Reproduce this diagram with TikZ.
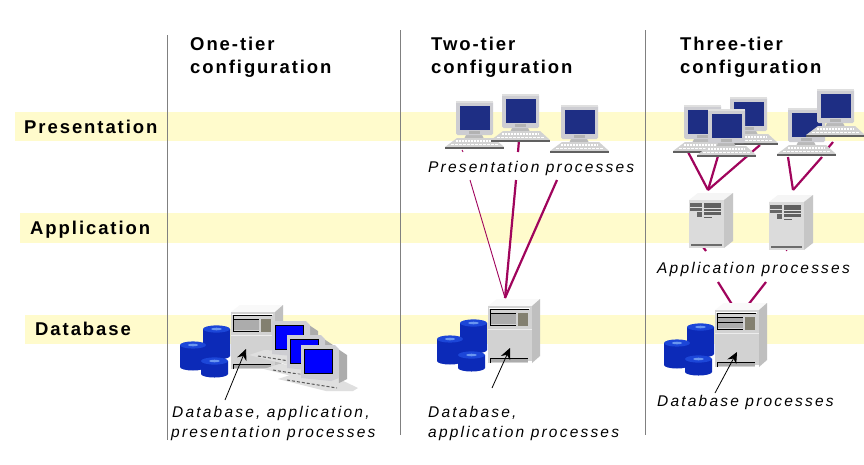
\documentclass[tikz,border=0pt]{standalone}
\usepackage{fontspec}
\usetikzlibrary{arrows.meta}
\setmainfont{Liberation Sans}
\newfontfamily\hdfont[LetterSpace=10.4]{Liberation Sans Bold}
\newfontfamily\itfont[LetterSpace=14.2]{Liberation Sans Italic}
\definecolor{bandc}{HTML}{FFFBCC}
\definecolor{linkc}{HTML}{A0045C}
\definecolor{rulec}{HTML}{808080}
\definecolor{bodyc}{HTML}{CDCDD2}
\definecolor{scrc}{HTML}{1E2E84}
\definecolor{cylbody}{HTML}{0C2AB8}
\definecolor{cyltop}{HTML}{1C46D8}
\definecolor{cylhi}{HTML}{6A96F0}
\tikzset{
  x=1pt,y=-1pt,
  band/.style={fill=bandc,draw=none},
  rulel/.style={draw=rulec,line width=0.9pt},
  head/.style={anchor=base west,inner sep=0pt,font=\hdfont\fontsize{18.5}{18.5}\selectfont},
  proc/.style={anchor=base west,inner sep=0pt,font=\itfont\fontsize{15.5}{15.5}\selectfont},
  lnk/.style={draw=linkc,line width=2.2pt},
  lnkthin/.style={draw=linkc,line width=0.9pt},
  ptr/.style={draw=black,line width=0.8pt,-{Stealth[length=11pt,width=10pt]}},
  pics/monitor/.style={code={
    \fill[gray!55] (10,34)--(26,34)--(28,38)--(8,38)--cycle;
    \fill[gray!35] (1,37)--(38,37)--(48,46)--(-11,46)--cycle;
    \fill[gray!75!black] (-11,46)--(48,46)--(48,48)--(-11,48)--cycle;
    \draw[white,line width=1.2pt,dash pattern=on 2pt off 1pt] (0,40)--(37,40);
    \draw[white,line width=1.2pt,dash pattern=on 3pt off 1pt] (-5,43.5)--(42,43.5);
    \fill[bodyc,rounded corners=1.5pt] (0,0) rectangle (37,34);
    \fill[gray!25] (0,0) rectangle (37,1.5);
    \fill[scrc] (4,5) rectangle (34,29);
    \fill[gray!60] (13,30) rectangle (24,33);
  }},
  pics/pcmon/.style={code={
    \fill[gray!25] (-23,34)--(-8,29)--(32,31)--(57,43)--(52,46)--(25,46)--cycle;
    \draw[gray!70!black,line width=1pt,dash pattern=on 3pt off 2pt] (-14,35)--(36,43);
    \fill[gray!65] (37,4)--(46,10)--(46,34)--(38,38)--cycle;
    \fill[bodyc] (0,0)--(34,0)--(38,4)--(38,33)--(30,36)--(0,33)--cycle;
    \fill[black] (3,4) rectangle (32,29);
    \fill[blue] (4,5) rectangle (31,27.5);
  }},
  pics/tower/.style={code={
    \fill[gray!8] (0,0)--(9,-7)--(44,-7)--(35,0)--cycle;
    \fill[gray!45] (35,0)--(44,-7)--(44,41)--(35,48)--cycle;
    \fill[gray!28] (0,0) rectangle (35,48);
    \fill[gray!80!black] (1,3) rectangle (13,11);
    \fill[gray!80!black] (8,12) rectangle (13,17);
    \fill[gray!75!black] (15,3) rectangle (32,15);
    \fill[gray!75!black] (15,17) rectangle (23,18.2);
    \draw[gray!25,line width=0.6pt] (1,7)--(13,7) (15,8)--(32,8) (15,11.5)--(32,11.5);
    \fill[gray!85!black] (2,44) rectangle (33,46.2);
  }},
  pics/dbsrv/.style={code={
    \fill[gray!5] (0,0)--(9,-7)--(52,-7)--(44,0)--cycle;
    \fill[gray!50] (44,0)--(52,-7)--(52,50)--(44,57)--cycle;
    \fill[gray!35] (0,0) rectangle (44,57);
    \fill[white] (1,1.5) rectangle (42,3);
    \draw[black,line width=0.8pt] (2,3)--(41,3) (2,3)--(2,20);
    \fill[gray!65] (3,7) rectangle (28,18);
    \draw[black,line width=0.8pt] (2,7)--(28,7) (2,19)--(28,19);
    \fill[black!65!yellow!40!gray] (30,7) rectangle (40,20);
    \fill[white!85!gray] (0,23) rectangle (44,24.3);
    \fill[gray!65] (3,52) rectangle (40,56);
    \draw[black,line width=0.8pt] (2,57)--(2,52)--(40,52);
    \fill[white] (40,55) rectangle (44,57);
  }},
  pics/cyl/.style 2 args={code={
    \fill[cylbody] (0,3) -- (0,{#2-3}) arc[start angle=180,end angle=0,x radius={#1/2},y radius=3.5] -- (#1,3) -- cycle;
    \fill[cyltop] ({#1/2},3) ellipse[x radius={#1/2},y radius=3.6];
    \fill[cylhi] ({#1/2},3) ellipse[x radius={#1/5},y radius=1.3];
  }},
  pics/dbstack/.style={code={
    \pic at (-28,14) {cyl={27}{33}};
    \pic at (-51,30) {cyl={26}{28}};
    \pic at (-30,46) {cyl={27}{19}};
  }}
}
\begin{document}
\begin{tikzpicture}
\useasboundingbox[fill=white] (0,0) rectangle (864,464);
% bands
\path[band] (15,112) rectangle (864,141);
\path[band] (20,213) rectangle (864,243);
\path[band] (25,315) rectangle (864,344);
% rules
\coordinate (r1t) at (167,35); \coordinate (r1b) at (167,440);
\coordinate (r2t) at (400,30); \coordinate (r2b) at (400,435);
\coordinate (r3t) at (645,30); \coordinate (r3b) at (645,435);
\draw[rulel] (r1t)--(r1b);
\draw[rulel] (r2t)--(r2b);
\draw[rulel] (r3t)--(r3b);
% headings
\node[head] (h1a) at (190,50) {One-tier};
\node[head] (h1b) at (190,73) {configuration};
\node[head] (h2a) at (431,50) {Two-tier};
\node[head] (h2b) at (431,73) {configuration};
\node[head] (h3a) at (680,50) {Three-tier};
\node[head] (h3b) at (680,73) {configuration};
\node[head] (rp) at (24,133) {Presentation};
\node[head] (ra) at (30,234) {Application};
\node[head] (rd) at (35,335) {Database};
% link hubs and ends
\coordinate (hub2) at (505,298);
\coordinate (t2a) at (470,180); \coordinate (t2b) at (516,180); \coordinate (t2c) at (557,180);
\coordinate (s2a) at (462,150); \coordinate (s2aa) at (463,152);
\coordinate (s2b) at (519,140); \coordinate (s2bb) at (518,152);
\draw[lnkthin] (t2a)--(hub2);
\draw[lnk] (t2b)--(hub2);
\draw[lnk] (t2c)--(hub2);
\draw[lnkthin] (s2a)--(s2aa);
\draw[lnk] (s2b)--(s2bb);
\coordinate (hub3a) at (708,190); \coordinate (hub3b) at (793,190);
\coordinate (t3a) at (688,152); \coordinate (t3b) at (718,156); \coordinate (t3c) at (760,145);
\coordinate (t3d) at (788,157); \coordinate (t3e) at (822,157);
\coordinate (t3f) at (833,142); \coordinate (t3g) at (828,148);
\draw[lnk] (t3a)--(hub3a);
\draw[lnk] (t3b)--(hub3a);
\draw[lnk] (t3c)--(hub3a);
\draw[lnk] (t3d)--(hub3b);
\draw[lnk] (t3e)--(hub3b);
\draw[lnk] (t3f)--(t3g);
\coordinate (u3a) at (703,247); \coordinate (u3b) at (706,251);
\coordinate (u3c) at (788,249); \coordinate (u3d) at (786,251);
\draw[lnk] (u3a)--(u3b);
\draw[lnkthin] (u3c)--(u3d);
\coordinate (d3a) at (718,282); \coordinate (d3b) at (733,306);
\coordinate (d3c) at (766,282); \coordinate (d3d) at (748,305);
\draw[lnk] (d3a)--(d3b);
\draw[lnk] (d3c)--(d3d);
% two-tier clients
\pic at (456,101) {monitor};
\pic at (502,94) {monitor};
\pic at (561,105) {monitor};
% three-tier clients
\pic at (730,97) {monitor};
\pic at (684,105) {monitor};
\pic at (708,109) {monitor};
\pic at (788,108) {monitor};
\pic at (817,89) {monitor};
% application servers
\pic at (689,200) {tower};
\pic at (769,202) {tower};
% database hosts
\pic at (231,312) {dbstack};
\pic at (231,312) {dbsrv};
\pic at (272,321) {pcmon};
\pic at (287,335) {pcmon};
\pic at (301,345) {pcmon};
\pic at (488,306) {dbstack};
\pic at (488,306) {dbsrv};
\pic at (715,310) {dbstack};
\pic at (715,310) {dbsrv};
\coordinate (st1) at (718,322.7); \coordinate (st2) at (743,322.7);
\draw[black,line width=0.8pt] (st1)--(st2);
% pointers
\coordinate (a1s) at (225,400); \coordinate (a1e) at (246,349);
\coordinate (a2s) at (492,388); \coordinate (a2e) at (510,348);
\coordinate (a3s) at (715,393); \coordinate (a3e) at (737,352);
\draw[ptr] (a1s)--(a1e);
\draw[ptr] (a2s)--(a2e);
\draw[ptr] (a3s)--(a3e);
% process labels
\node[proc] (l1) at (428,172) {Presentation processes};
\node[proc] (l2) at (657,273) {Application processes};
\node[proc] (l3) at (657,406) {Database processes};
\node[proc] (l4) at (428,417) {Database,};
\node[proc] (l5) at (428,437) {application processes};
\node[proc] (l6) at (172,417) {Database, application,};
\node[proc] (l7) at (171,437) {presentation processes};
\end{tikzpicture}
\end{document}
